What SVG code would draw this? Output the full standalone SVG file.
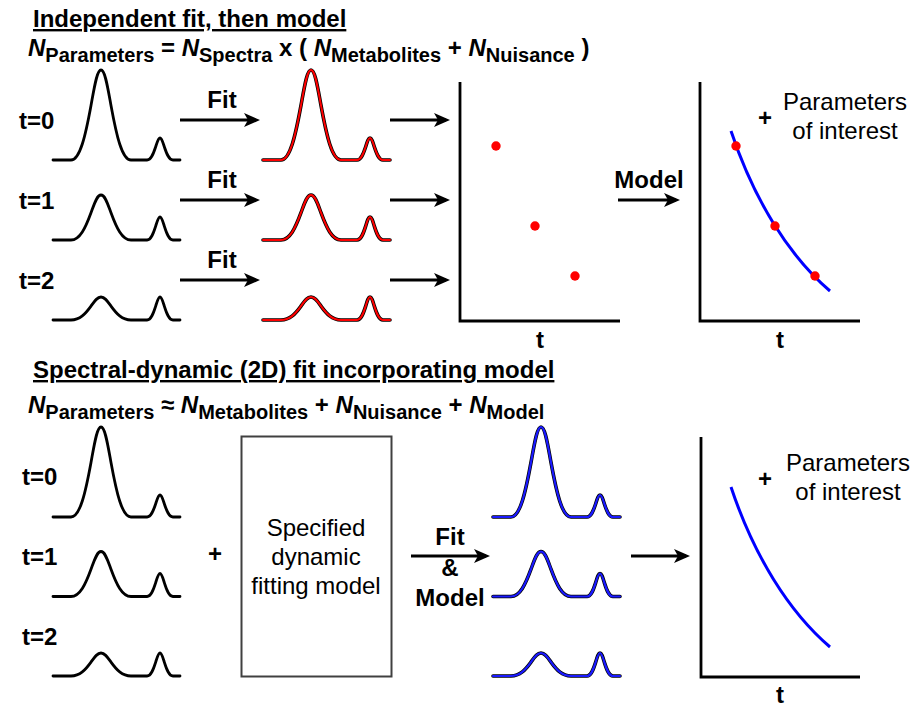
<svg xmlns="http://www.w3.org/2000/svg" width="915" height="712" viewBox="0 0 915 712">
<style>
text{font-family:"Liberation Sans",Arial,Helvetica,sans-serif;fill:#000}
.b{font-weight:bold;font-size:24px}
.r{font-size:24px}
.m{text-anchor:middle}
.sub{font-size:20px;font-style:normal}
.it{font-style:italic}
.u{text-decoration:underline}
.sp{fill:none;stroke:#000;stroke-width:2.8;stroke-linejoin:round;stroke-linecap:round}
.ov{fill:none;stroke:#000;stroke-width:3.6;stroke-linejoin:round;stroke-linecap:round}
.red{fill:none;stroke:#ff0000;stroke-width:2;stroke-linejoin:round;stroke-linecap:round}
.blue{fill:none;stroke:#1a1aff;stroke-width:2.2;stroke-linejoin:round;stroke-linecap:round}
.ax{fill:none;stroke:#000;stroke-width:2.8}
.arr{fill:none;stroke:#000;stroke-width:2.8;marker-end:url(#ah)}
.crv{fill:none;stroke:#0000ff;stroke-width:3}
.dot{fill:#ff0000}
.box{fill:#fff;stroke:#404040;stroke-width:2}
</style>
<defs>
<marker id="ah" markerUnits="userSpaceOnUse" viewBox="0 0 16 14" refX="12" refY="7" markerWidth="16" markerHeight="14" orient="auto">
<path d="M0,0 L16,7 L0,14 L4,7 Z" fill="#000"/>
</marker>
<path id="s0" d="M0,0 L18,0 C27,0 32.5,-24.6 38,-54.6 C41.5,-73.7 44,-90 48,-90 C52,-90 54.5,-73.7 58,-54.6 C63.5,-24.6 69,0 78,0 L94.1,0 C98,0 100.3,-6 102.7,-13.3 C104.2,-18 105.3,-22 107,-22 C108.7,-22 109.8,-18 111.3,-13.3 C113.7,-6 116,0 119.9,0 L127,0"/>
<path id="s1" d="M0,0 L18,0 C27,0 32.5,-12.3 38,-27.3 C41.5,-36.8 44,-45 48,-45 C52,-45 54.5,-36.8 58,-27.3 C63.5,-12.3 69,0 78,0 L94.1,0 C98,0 100.3,-6.3 102.7,-13.9 C104.2,-18.8 105.3,-23 107,-23 C108.7,-23 109.8,-18.8 111.3,-13.9 C113.7,-6.3 116,0 119.9,0 L127,0"/>
<path id="s2" d="M0,0 L18,0 C27,0 32.5,-6.3 38,-13.9 C41.5,-18.8 44,-23 48,-23 C52,-23 54.5,-18.8 58,-13.9 C63.5,-6.3 69,0 78,0 L94.1,0 C98,0 100.3,-6.3 102.7,-13.9 C104.2,-18.8 105.3,-23 107,-23 C108.7,-23 109.8,-18.8 111.3,-13.9 C113.7,-6.3 116,0 119.9,0 L127,0"/>
</defs>

<g id="title-top">
<text x="33" y="27" class="b u">Independent fit, then model</text>
<text x="28" y="56" class="b"><tspan class="it">N</tspan><tspan class="sub" dy="6">Parameters</tspan><tspan dy="-6"> = </tspan><tspan class="it">N</tspan><tspan class="sub" dy="6">Spectra</tspan><tspan dy="-6"> x ( </tspan><tspan class="it">N</tspan><tspan class="sub" dy="6">Metabolites</tspan><tspan dy="-6"> + </tspan><tspan class="it">N</tspan><tspan class="sub" dy="6">Nuisance</tspan><tspan dy="-6"> )</tspan></text>
</g>

<g id="top-labels">
<text x="19" y="129" class="b">t=0</text>
<text x="19" y="209" class="b">t=1</text>
<text x="19" y="289" class="b">t=2</text>
</g>

<g id="top-spectra">
<use href="#s0" class="sp" x="53" y="160"/>
<use href="#s1" class="sp" x="53" y="240"/>
<use href="#s2" class="sp" x="53" y="320"/>
</g>

<g id="top-fitted-spectra">
<use href="#s0" class="ov" x="263" y="160"/>
<use href="#s0" class="red" x="263" y="160"/>
<use href="#s1" class="ov" x="263" y="240"/>
<use href="#s1" class="red" x="263" y="240"/>
<use href="#s2" class="ov" x="263" y="320"/>
<use href="#s2" class="red" x="263" y="320"/>
</g>

<g id="chart-points">
<path class="ax" d="M460,82 L460,321 L620,321"/>
<circle class="dot" cx="496" cy="146" r="4.7"/>
<circle class="dot" cx="535" cy="226" r="4.7"/>
<circle class="dot" cx="575" cy="276" r="4.7"/>
<text x="540" y="348" class="b m">t</text>
</g>

<g id="chart-model-top">
<path class="ax" d="M700,82 L700,321 L860,321"/>
<path class="crv" d="M731,131 C754,200 789,256 830,291"/>
<circle class="dot" cx="736" cy="146" r="4.7"/>
<circle class="dot" cx="775" cy="226" r="4.7"/>
<circle class="dot" cx="815" cy="276" r="4.7"/>
<text x="780" y="348" class="b m">t</text>
<text x="765" y="126" class="b m">+</text>
<text x="845" y="110" class="r m">Parameters</text>
<text x="845" y="139" class="r m">of interest</text>
</g>

<g id="title-bottom">
<text x="33" y="378" class="b u">Spectral-dynamic (2D) fit incorporating model</text>
<text x="28" y="413" class="b"><tspan class="it">N</tspan><tspan class="sub" dy="6">Parameters</tspan><tspan dy="-6"> ≈ </tspan><tspan class="it">N</tspan><tspan class="sub" dy="6">Metabolites</tspan><tspan dy="-6"> + </tspan><tspan class="it">N</tspan><tspan class="sub" dy="6">Nuisance</tspan><tspan dy="-6"> + </tspan><tspan class="it">N</tspan><tspan class="sub" dy="6">Model</tspan></text>
</g>

<g id="bottom-labels">
<text x="22" y="485" class="b">t=0</text>
<text x="22" y="565" class="b">t=1</text>
<text x="22" y="645" class="b">t=2</text>
<text x="215" y="562" class="b m">+</text>
</g>

<g id="bottom-spectra">
<use href="#s0" class="sp" x="53" y="517"/>
<use href="#s1" class="sp" x="53" y="596.5"/>
<use href="#s2" class="sp" x="53" y="676"/>
</g>

<g id="model-box">
<rect class="box" x="241.5" y="436.5" width="150" height="240"/>
<text x="316" y="536" class="r m">Specified</text>
<text x="316" y="565" class="r m">dynamic</text>
<text x="316" y="594" class="r m">fitting model</text>
</g>

<g id="bottom-fitted-spectra">
<use href="#s0" class="ov" x="493" y="517"/>
<use href="#s0" class="blue" x="493" y="517"/>
<use href="#s1" class="ov" x="493" y="596.5"/>
<use href="#s1" class="blue" x="493" y="596.5"/>
<use href="#s2" class="ov" x="493" y="676"/>
<use href="#s2" class="blue" x="493" y="676"/>
</g>

<g id="chart-model-bottom">
<path class="ax" d="M701,437 L701,677 L860,677"/>
<path class="crv" d="M731,487 C754,556 789,612 830,647"/>
<text x="780" y="703" class="b m">t</text>
<text x="765" y="487" class="b m">+</text>
<text x="848" y="471" class="r m">Parameters</text>
<text x="848" y="500" class="r m">of interest</text>
</g>

<g id="connectors">
<line class="arr" x1="180" y1="120" x2="256" y2="120"/>
<line class="arr" x1="180" y1="200" x2="256" y2="200"/>
<line class="arr" x1="180" y1="280" x2="256" y2="280"/>
<line class="arr" x1="390" y1="120" x2="446" y2="120"/>
<line class="arr" x1="390" y1="200" x2="446" y2="200"/>
<line class="arr" x1="390" y1="280" x2="446" y2="280"/>
<line class="arr" x1="618" y1="200" x2="676" y2="200"/>
<line class="arr" x1="411" y1="556" x2="486" y2="556"/>
<line class="arr" x1="631" y1="556" x2="686" y2="556"/>
<text x="222" y="108" class="b m">Fit</text>
<text x="222" y="188" class="b m">Fit</text>
<text x="222" y="268" class="b m">Fit</text>
<text x="649" y="188" class="b m">Model</text>
<text x="450" y="545" class="b m">Fit</text>
<text x="450" y="576" class="b m">&amp;</text>
<text x="450" y="606" class="b m">Model</text>
</g>
</svg>
